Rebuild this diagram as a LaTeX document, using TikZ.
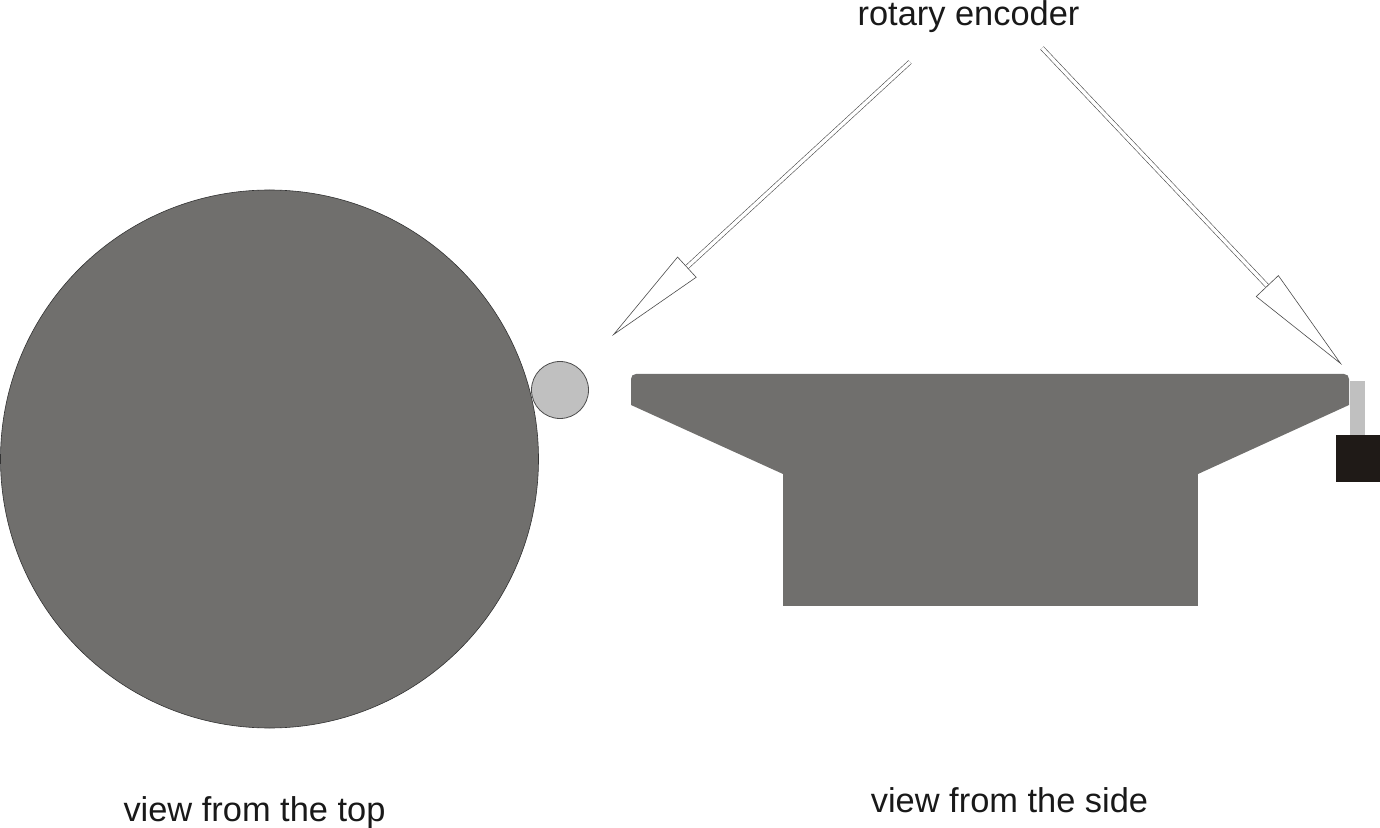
\documentclass[tikz,border=0pt]{standalone}
\usepackage{fontspec}
\setmainfont{Liberation Sans}
\usetikzlibrary{arrows.meta,positioning}
\definecolor{disc}{HTML}{706F6D}
\definecolor{roller}{HTML}{C0C0C0}
\definecolor{housing}{HTML}{1F1A17}
\tikzset{caption/.style={font=\fontsize{17.2}{20}\selectfont,anchor=base,inner sep=0pt,text=black!90}}
\tikzset{block/.style={inner sep=0pt,outer sep=0pt,draw=none}}
\tikzset{pointer/.style={draw=black!70,line width=.3pt,double=white,double distance=1.7pt}}

\begin{document}
\begin{tikzpicture}[x=.5pt,y=-.5pt]
        \useasboundingbox (0,0) rectangle (1380,828);
        % top view
        \node(top)[block,circle,fill=disc,draw=black!80,line width=.3pt,minimum size=269pt] at (269.5,459){};
        \node(wheel)[block,circle,fill=roller,draw=black!70,line width=.4pt,minimum size=28.5pt] at (560,390){};
        % side view
        \node(base)[block,fill=disc,minimum width=207.5pt,minimum height=66pt] at (990.5,540){};
        \fill[disc] (631,405) -- (631,379) .. controls (631,376) and (633,374) .. (636,374) -- (1344,374) .. controls (1347,374) and (1349,376) .. (1349,379) -- (1349,405) -- (1198,474) -- (783,474) -- cycle;
        \node(shaft)[block,fill=roller,minimum width=7.5pt,minimum height=27pt] at (1357.5,408){};
        \node(body)[block,fill=housing,minimum width=22pt,minimum height=23.5pt] at (1358,458.5){};
        % labels
        \node(enc)[caption] at (968.5,26){rotary encoder};
        \node(capt)[caption] at (254.5,821){view from the top};
        \node(caps)[caption] at (1009.5,812){view from the side};
        % arrows
        \coordinate(a1) at (910,62);
        \coordinate(a2) at (612,336);
        \coordinate(b1) at (1042,48);
        \coordinate(b2) at (1342,365);
        \draw[pointer,-{Triangle[length=51pt,width=14pt,fill=white]}] (a1) -- (a2);
        \draw[pointer,-{Triangle[length=54.5pt,width=15.5pt,fill=white]}] (b1) -- (b2);
      \end{tikzpicture}
\end{document}
